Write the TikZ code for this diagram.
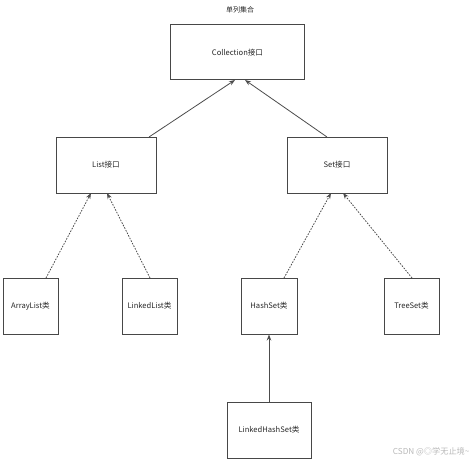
\documentclass[tikz,border=0pt]{standalone}
\usepackage{fontspec}
\setmainfont{Noto Sans CJK SC}
\usetikzlibrary{arrows.meta}
\begin{document}
\begin{tikzpicture}[x=1pt,y=-1pt,
  box/.style={draw=black!72,line width=1pt,inner sep=0pt,font=\fontsize{7.6}{9}\selectfont,text=black!85},
  link/.style={draw=black!70,line width=0.8pt,-{Stealth[length=6pt,width=4.5pt]}},
  dlink/.style={link,dash pattern=on 1.6pt off 1.3pt}]
\useasboundingbox (0,0) rectangle (474,460);
\node[font=\fontsize{7}{8}\selectfont,text=black!85] (title) at (240,10) {单列集合};
\node[box,minimum width=134pt,minimum height=55pt] (coll) at (237.5,52.5) {Collection接口};
\node[box,minimum width=100pt,minimum height=56pt] (list) at (106,165) {List接口};
\node[box,minimum width=100pt,minimum height=56pt] (set) at (337,165) {Set接口};
\node[box,minimum width=55pt,minimum height=56pt] (al) at (30.5,306) {ArrayList类};
\node[box,minimum width=55pt,minimum height=56pt] (ll) at (149.5,306) {LinkedList类};
\node[box,minimum width=56pt,minimum height=56pt] (hs) at (269,306) {HashSet类};
\node[box,minimum width=55pt,minimum height=56pt] (ts) at (411.5,306) {TreeSet类};
\node[box,minimum width=84pt,minimum height=56pt] (lhs) at (269,430) {LinkedHashSet类};
\node[font=\fontsize{8.2}{9}\selectfont,text=black!28,anchor=east] (wm) at (473,452) {CSDN @◎学无止境\textasciitilde};
\coordinate (c1) at (235,80);
\coordinate (c2) at (245,80);
\coordinate (l1) at (149,137);
\coordinate (s1) at (327,137);
\draw[link] (l1) -- (c1);
\draw[link] (s1) -- (c2);
\coordinate (lb1) at (91,193);
\coordinate (lb2) at (107,193);
\coordinate (sb1) at (331,193);
\coordinate (sb2) at (343,193);
\coordinate (alt) at (46,278);
\coordinate (llt) at (150,278);
\coordinate (hst) at (284,278);
\coordinate (tst) at (412,278);
\draw[dlink] (alt) -- (lb1);
\draw[dlink] (llt) -- (lb2);
\draw[dlink] (hst) -- (sb1);
\draw[dlink] (tst) -- (sb2);
\draw[link] (lhs.north) -- (hs.south);
\end{tikzpicture}
\end{document}
